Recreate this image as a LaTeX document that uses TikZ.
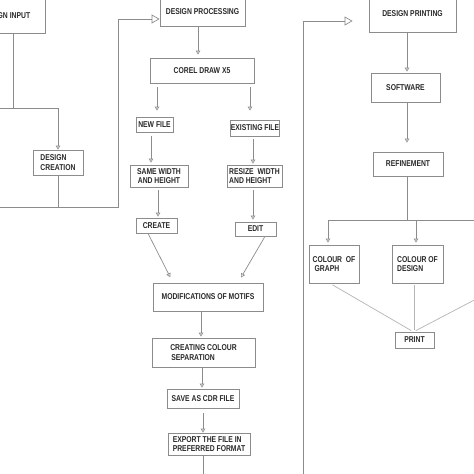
\documentclass[tikz,border=0pt]{standalone}
\usepackage{fontspec}
\setmainfont{Liberation Sans}[FakeStretch=0.8]
\usetikzlibrary{arrows.meta,calc}
\definecolor{boxc}{HTML}{8C8C8C}
\definecolor{linec}{HTML}{8C8C8C}
\definecolor{linel}{HTML}{B4B4B4}
\definecolor{txt}{HTML}{2A2A2A}
\begin{document}
\begin{tikzpicture}[x=1pt,y=-1pt,
  box/.style={draw=boxc, line width=0.8pt, fill=white, inner sep=0pt,
    font=\bfseries\fontsize{8.5}{9.2}\selectfont, text=txt, align=center},
  ln/.style={draw=linec, line width=0.7pt},
  lnl/.style={draw=linel, line width=0.7pt},
  arr/.style={ln, -{Triangle[open,length=4pt,width=4.5pt]}},
  bigarr/.style={ln, -{Triangle[open,length=8pt,width=9pt]}}]
\useasboundingbox (0,0) rectangle (474,474);
\clip (0,0) rectangle (474,474);
\fill[white] (0,0) rectangle (474,474);

% left column
\node[box, minimum width=78, minimum height=34] (dinput) at (6,16) {DESIGN INPUT};
\node[box, minimum width=50, minimum height=25, align=left] (dcreation) at (58,162.5) {DESIGN\\CREATION};

% middle column
\node[box, minimum width=85, minimum height=28] (dproc) at (202.5,12) {DESIGN PROCESSING};
\node[box, minimum width=104, minimum height=25] (corel) at (202,70.5) {COREL DRAW X5};
\node[box, minimum width=37, minimum height=15] (newfile) at (154.5,124.5) {NEW FILE};
\node[box, minimum width=46, minimum height=16] (existing) at (255,128) {EXISTING FILE};
\node[box, minimum width=58, minimum height=22] (same) at (159,176) {SAME WIDTH\\AND HEIGHT};
\node[box, minimum width=55, minimum height=22, align=left] (resize) at (254.5,176) {RESIZE\ \ WIDTH\\AND HEIGHT};
\node[box, minimum width=41, minimum height=15] (create) at (156.5,225.5) {CREATE};
\node[box, minimum width=41, minimum height=14] (edit) at (255.5,229) {EDIT};
\node[box, minimum width=110, minimum height=28] (mods) at (208,297) {MODIFICATIONS OF MOTIFS};
\node[box, minimum width=103, minimum height=29, align=left] (sep) at (203.5,352.5) {CREATING COLOUR\\\hspace{1pt}SEPARATION};
\node[box, minimum width=72, minimum height=19] (save) at (203,398.5) {SAVE AS CDR FILE};
\node[box, minimum width=82, minimum height=22, align=left] (export) at (209,444) {EXPORT THE FILE IN\\PREFERRED FORMAT};

% right column
\node[box, minimum width=87, minimum height=37] (dprint) at (412.5,13.5) {DESIGN PRINTING};
\node[box, minimum width=69, minimum height=29] (software) at (405.5,87.5) {SOFTWARE};
\node[box, minimum width=70, minimum height=24] (refine) at (408,164) {REFINEMENT};
\node[box, minimum width=50, minimum height=38, align=left] (cgraph) at (334,264) {COLOUR\ \ OF\\\hspace{2pt}GRAPH};
\node[box, minimum width=51, minimum height=38, align=left] (cdesign) at (417.5,264) {COLOUR OF\\DESIGN};
\node[box, minimum width=39, minimum height=16] (print) at (414.5,340) {PRINT};

% left connectors
\coordinate (c0) at (-5,108);
\coordinate (c1) at (13,108);
\coordinate (c2) at (-5,207);
\coordinate (c3) at (118,207);
\draw[ln] ([xshift=7pt]dinput.south) -- (c1);
\draw[arr] (c0) -| (dcreation.north);
\draw[ln] (dcreation.south) -- (dcreation.south |- c2);
\draw[bigarr] (c2) -- (c3) |- ([yshift=-7pt]dproc.west);

% middle connectors
\draw[arr, shorten >=3pt] ([xshift=-4.5pt]dproc.south) -- ([xshift=-4.5pt]dproc.south |- corel.north);
\draw[arr, shorten <=4pt, shorten >=6pt] ([xshift=2.5pt]newfile.north |- corel.south) -- ([xshift=2.5pt]newfile.north);
\draw[arr, shorten <=4pt, shorten >=9pt] ([xshift=-5pt]existing.north |- corel.south) -- ([xshift=-5pt]existing.north);
\draw[arr, shorten <=4pt, shorten >=2pt] ([xshift=-3.5pt]newfile.south) -- ([xshift=-3.5pt]newfile.south |- same.north);
\draw[arr, shorten <=3pt, shorten >=1pt] ([xshift=-2pt]existing.south) -- ([xshift=-2pt]existing.south |- resize.north);
\draw[arr, shorten <=3pt, shorten >=1pt] ([xshift=-1pt]same.south) -- ([xshift=-1pt]same.south |- create.north);
\draw[arr, shorten <=3pt, shorten >=2pt] ([xshift=-1.5pt]resize.south) -- ([xshift=-1.5pt]resize.south |- edit.north);
\draw[arr, shorten >=6pt] ([xshift=-8.5pt]create.south) -- ([xshift=-35pt]mods.north);
\draw[arr, shorten <=1pt, shorten >=6pt] ([xshift=9.5pt]edit.south) -- ([xshift=30pt]mods.north);
\draw[arr, shorten >=1pt] ([xshift=-7pt]mods.south) -- ([xshift=-7pt]mods.south |- sep.north);
\draw[arr, shorten >=1pt] ([xshift=-1.5pt]sep.south) -- ([xshift=-1.5pt]sep.south |- save.north);
\draw[arr, shorten <=5pt] (save.south) -- (save.south |- export.north);
\coordinate (bot) at (203,480);
\draw[ln] (export.south -| bot) -- (bot);

% right connectors
\coordinate (r0) at (303,480);
\draw[bigarr, shorten >=16pt] (r0) |- ([yshift=-7.5pt]dprint.west);
\draw[arr, shorten >=1pt] ([xshift=-5.5pt]dprint.south) -- ([xshift=-5.5pt]dprint.south |- software.north);
\draw[arr, shorten >=9pt] ([xshift=1.5pt]software.south) -- ([xshift=1.5pt]software.south |- refine.north);
\coordinate (sp) at (407,220);
\coordinate (spL) at (328,220);
\coordinate (spR) at (480,220);
\draw[ln] ([xshift=-1pt]refine.south) -- (sp);
\draw[ln] (spL) -- (spR);
\draw[arr, shorten >=2pt] (spL) -- (spL |- cgraph.north);
\draw[arr, shorten >=2pt] ([xshift=-1.5pt]cdesign.north |- sp) -- ([xshift=-1.5pt]cdesign.north);
\coordinate (rr) at (480,297);
\draw[lnl, shorten <=3pt, shorten >=2pt] ([xshift=-4pt]cgraph.south) -- ([xshift=-1.5pt]print.north);
\draw[lnl, shorten <=2pt, shorten >=2pt] ([xshift=-3.5pt]cdesign.south) -- ([xshift=-0.5pt]print.north);
\draw[lnl, shorten >=2pt] (rr) -- ([xshift=-0.5pt]print.north);
\end{tikzpicture}
\end{document}
